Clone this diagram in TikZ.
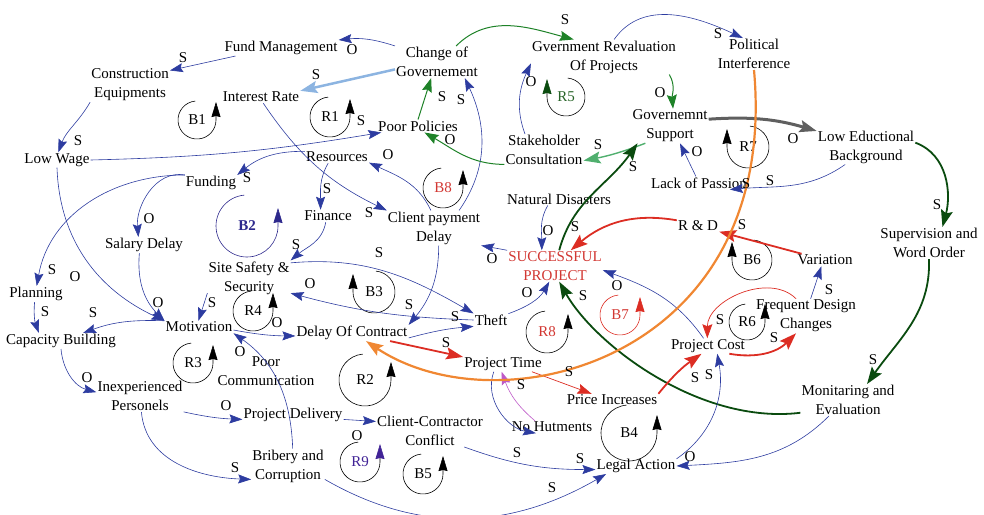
\documentclass[tikz,border=0pt]{standalone}
\usepackage{fontspec}
\setmainfont{Liberation Serif}
\usetikzlibrary{arrows.meta}

\definecolor{linkblue}{RGB}{45,60,160}
\definecolor{leafgreen}{RGB}{30,130,40}
\definecolor{palegreen}{RGB}{80,175,110}
\definecolor{deepgreen}{RGB}{10,75,15}
\definecolor{skyblue}{RGB}{140,180,225}
\definecolor{flame}{RGB}{240,135,50}
\definecolor{alarm}{RGB}{220,45,35}
\definecolor{orchid}{RGB}{190,90,200}
\definecolor{slate}{RGB}{95,95,95}
\definecolor{navyloop}{RGB}{45,40,140}
\definecolor{violetloop}{RGB}{65,35,150}
\definecolor{titlered}{RGB}{210,55,50}
\definecolor{loopgreen}{RGB}{40,100,40}

\tikzset{
  factor/.style={align=center,inner sep=1pt},
  pol/.style={inner sep=0pt},
  link/.style={draw=linkblue,line width=0.6pt,-{Stealth[length=13pt,width=9pt,inset=2pt]}},
  greenlink/.style={draw=leafgreen,line width=1pt,-{Stealth[length=14pt,width=10pt,inset=2pt]}},
  redlink/.style={draw=alarm,line width=0.7pt,-{Stealth[length=14pt,width=10pt,inset=2pt]}},
  heavy/.style={line width=1.8pt,-{Stealth[length=17pt,width=12pt,inset=3pt]}},
  loopring/.style={line width=0.6pt}
}

\begin{document}
\begin{tikzpicture}[x=1pt,y=1pt,font=\fontsize{15}{19}\selectfont]
  \useasboundingbox (0,0) rectangle (984,-514);

  % factors
  \node[factor] (fm) at (281,-48) {Fund Management};
  \node[factor] (ce) at (130,-85) {Construction\\Equipments};
  \node[factor] (ir) at (261,-97) {Interest Rate};
  \node[factor] (lw) at (57,-160) {Low Wage};
  \node[factor] (cg) at (437,-62) {Change of\\Governement};
  \node[factor] (pp) at (418,-126) {Poor Policies};
  \node[factor] (res) at (337,-157) {Resources};
  \node[factor] (fund) at (211,-183) {Funding};
  \node[factor] (fin) at (328,-216) {Finance};
  \node[factor] (cpd) at (434,-228) {Client payment\\Delay};
  \node[factor] (sd) at (144,-245) {Salary Delay};
  \node[factor] (sss) at (249,-278) {Site Safety \&\\Security};
  \node[factor] (plan) at (36,-294) {Planning};
  \node[factor] (cb) at (61,-341) {Capacity Building};
  \node[factor] (mot) at (199,-327) {Motivation};
  \node[factor] (doc) at (352,-333) {Delay Of Contract};
  \node[factor] (theft) at (491,-320) {Theft};
  \node[factor,text=titlered] (sp) at (555,-266) {SUCCESSFUL\\PROJECT};
  \node[factor] (nd) at (559,-199) {Natural Disasters};
  \node[factor] (grp) at (604,-57) {Gvernment Revaluation\\Of Projects};
  \node[factor] (pi) at (754,-54) {Political\\Interference};
  \node[factor] (gs) at (670,-126) {Governemnt\\Support};
  \node[factor] (sc) at (544,-150) {Stakeholder\\Consultation};
  \node[factor] (leb) at (866,-147) {Low Eductional\\Background};
  \node[factor] (lop) at (699,-183) {Lack of Passion};
  \node[factor] (rd) at (698,-226) {R \& D};
  \node[factor] (swo) at (929,-243) {Supervision and\\Word Order};
  \node[factor] (var) at (825,-260) {Variation};
  \node[factor] (fdc) at (806,-316) {Frequent Design\\Changes};
  \node[factor] (pc) at (708,-346) {Project Cost};
  \node[factor] (pt) at (503,-364) {Project Time};
  \node[factor] (pinc) at (612,-400) {Price Increases};
  \node[factor] (nh) at (552,-427) {No Hutments};
  \node[factor] (la) at (636,-466) {Legal Action};
  \node[factor] (me) at (848,-400) {Monitaring and\\Evaluation};
  \node[factor] (ccc) at (430,-431) {Client-Contractor\\Conflict};
  \node[factor] (pd) at (293,-415) {Project Delivery};
  \node[factor] (ip) at (140,-396) {Inexperienced\\Personels};
  \node[factor] (pcom) at (266,-371) {Poor\\Communication};
  \node[factor] (bc) at (288,-466) {Bribery and\\Corruption};

  % loop markers
  \foreach \n/\x/\y/\r/\cc/\ac/\tc in {B1/197/120/19/black/black/black,
      R1/330/117/20/black/black/black, B8/443/188/20/black/black/titlered,
      R4/253/311/20/black/black/black, R6/747/322/18/black/black/black,
      B7/620/315/20/alarm/alarm/titlered, R8/547/332/21/black/black/titlered,
      R2/365/380/26/black/black/black, R3/193/363/20/black/black/black,
      B4/629/433/28/black/black/black, R9/360/462/20/black/violetloop/violetloop,
      B5/423/474/20/black/black/black}{
    \draw[loopring,draw=\cc,-{Stealth[length=15pt,width=9pt,inset=1pt,color=\ac]}]
      (\x,-\y) ++(95:\r pt) arc[start angle=95,end angle=360,radius=\r pt] -- ++(0,18pt);
    \node[text=\tc] (loop\n) at (\x,-\y) {\n};
  }
  \foreach \n/\x/\y/\r/\ac/\tc in {R5/566/97/19/deepgreen/loopgreen,
      R7/748/147/21/black/black, B3/374/292/21/black/black,
      B6/752/260/20/black/black}{
    \draw[loopring,-{Stealth[length=15pt,width=9pt,inset=1pt,color=\ac]}]
      (\x,-\y) ++(85:\r pt) arc[start angle=85,end angle=-180,radius=\r pt] -- ++(0,18pt);
    \node[text=\tc] (loop\n) at (\x,-\y) {\n};
  }
  \draw[loopring,draw=navyloop,-{Stealth[length=15pt,width=9pt,inset=1pt]}]
    (247,-226) ++(95:31pt) arc[start angle=95,end angle=360,radius=31pt] -- ++(0,18pt);
  \node[text=navyloop,font=\fontsize{15}{19}\selectfont\bfseries] (loopB2) at (247,-226) {B2};

  % links
  \draw[link] (cg.north west) to[bend right=12] (fm.north east);
  \draw[link] (fm.-170) -- (ce.20);
  \draw[link] (ce.south west) to[out=-120,in=70] (lw.80);
  \draw[heavy,draw=skyblue,line width=2.5pt] (cg.-170) -- (ir.north east);
  \draw[link] (ir.-70) to[bend right=15] (cpd.north west);
  \draw[link] (lw.east) to[bend right=4] (pp.-170);
  \draw[link] (lw.south) to[out=-88,in=155] (mot.north west);
  \draw[link] (res.170) to[bend right=20] (fund.north east);
  \draw[link] (res.-145) to[out=-120,in=90] (fin.140);
  \draw[link] (cpd.100) to[out=115,in=-25] (res.-10);
  \draw[link] (cpd.35) to[out=55,in=-65] (cg.-30);
  \draw[greenlink] (pp.north) -- (cg.-110);
  \draw[greenlink] (sc.-160) to[out=180,in=-30] (pp.-45);
  \draw[link] (sc.140) to[out=110,in=-115] (grp.185);
  \draw[greenlink] (cg.40) to[out=45,in=165] (grp.150);
  \draw[link] (grp.60) to[out=55,in=155] (pi.125);
  \draw[greenlink] (grp.-15) to[out=-60,in=95] (gs.80);
  \draw[heavy,draw=palegreen,line width=1.4pt] (gs.-145) to[bend left=5] (sc.-15);
  \draw[heavy,draw=deepgreen] (sp.75) to[out=75,in=-125] (gs.-152);
  \draw[heavy,draw=slate,line width=3pt] (gs.10) to[bend left=10] (leb.162);
  \draw[link] (leb.-140) to[out=-145,in=5] (lop.-12);
  \draw[link] (lop.115) -- (gs.-60);
  \draw[heavy,draw=deepgreen] (leb.5) to[out=-20,in=75] (swo.50);
  \draw[heavy,draw=deepgreen] (swo.south) to[out=-88,in=55] (me.40);
  \draw[heavy,draw=deepgreen] (me.-165) .. controls (700,-425) and (595,-345) .. (sp.-75);
  \draw[link] (me.-140) to[out=-135,in=3] (la.east);
  \draw[link] (la.10) to[out=35,in=-80] (pc.-40);
  \draw[heavy,draw=alarm] (pinc.north east) to[bend left=8] (pc.-130);
  \draw[heavy,draw=alarm] (pc.-20) to[out=-10,in=-135] (fdc.-120);
  \draw[redlink] (fdc.120) to[out=135,in=90] (pc.95);
  \draw[link] (fdc.75) -- (var.-120);
  \draw[heavy,draw=alarm] (var.165) -- (rd.-15);
  \draw[heavy,draw=alarm] (rd.165) to[out=170,in=40] (sp.45);
  \draw[link] (pc.120) to[out=125,in=-20] (sp.-5);
  \draw[link] (nd.-150) to[out=-120,in=90] (sp.130);
  \draw[link] (sp.north west) -- (cpd.south east);
  \draw[link] (theft.20) to[out=20,in=-120] (sp.-110);
  \draw[link] (sss.20) to[out=5,in=150] (theft.north west);
  \draw[link] (theft.west) to[out=178,in=-15] (sss.-20);
  \draw[link] (cpd.-75) to[out=-90,in=50] (doc.north east);
  \draw[link] (fin.-110) to[out=-100,in=40] (sss.north east);
  \draw[link] (doc.-5) to[bend left=5] (theft.-160);
  \draw[link] (mot.-5) to[bend right=5] (doc.-177);
  \draw[link] (sss.-160) -- (mot.95);
  \draw[link] (mot.north west) to[out=178,in=20] (cb.20);
  \draw[link] (fund.north west) to[out=170,in=95] (sd.125);
  \draw[link] (fund.north west) to[out=180,in=80] (plan.85);
  \draw[link] (sd.-120) to[out=-95,in=135] (mot.north west);
  \draw[link] (plan.-100) to[out=-95,in=110] (cb.160);
  \draw[link] (cb.south) to[out=-85,in=165] (ip.175);
  \draw[link] (ip.-20) to[bend right=5] (pd.-175);
  \draw[link] (ip.-85) to[out=-85,in=178] (bc.-160);
  \draw[link] (bc.75) to[out=92,in=-35] (mot.south east);
  \draw[link] (pd.-5) -- (ccc.170);
  \draw[link] (ccc.-25) to[out=-20,in=180] (la.-175);
  \draw[link] (bc.-20) to[out=-30,in=-150] (la.-165);
  \draw[link] (pt.-140) to[out=-110,in=170] (nh.-159);
  \draw[link,draw=orchid] (nh.160) to[out=140,in=-70] (pt.-100);
  \draw[heavy,draw=alarm] (doc.-12) -- (pt.170);
  \draw[redlink] (pt.-15) -- (pinc.163);
  \draw[heavy,draw=flame,line width=2.2pt] (pi.south) .. controls (780,-360) and (500,-430) .. (doc.-30);

  % polarity signs
  \foreach \n/\x/\y/\t in {a/352/50/O, b/183/58/S, c/78/141/S, d/316/75/S,
      e/361/121/S, f/75/277/O, g/247/178/S, h/327/189/S, i/369/213/S,
      j/388/155/O, k/461/100/S, l/442/97/S, m/450/140/O, n/531/82/O,
      o/565/20/S, p/718/34/S, q/660/93/O, r/598/145/S, s/633/167/S,
      t/575/227/S, u/793/139/O, v/770/181/S, w/746/184/S, x/697/152/O,
      y/937/205/S, z/873/360/S, A/583/296/S, B/690/457/O, C/709/375/S,
      D/695/378/S, E/774/338/S, F/720/320/S, G/829/290/S, H/742/225/S,
      I/617/286/O, J/548/231/O, K/492/259/O, L/527/293/O, M/379/253/S,
      N/310/284/O, P/409/305/S, Q/296/245/S, R/455/317/S, T/277/323/O,
      U/212/303/S, V/93/313/S, W/149/219/O, X/52/270/S, Y/158/303/O,
      Z/45/312/S, AA/87/378/O, AB/226/406/O, AC/235/468/S, AD/240/352/O,
      AE/357/436/O, AF/580/459/S, AG/517/453/S, AH/552/488/S, AI/521/385/S,
      AJ/446/343/S, AK/569/372/S}
    \node[pol] (pol\n) at (\x,-\y) {\t};
\end{tikzpicture}
\end{document}
